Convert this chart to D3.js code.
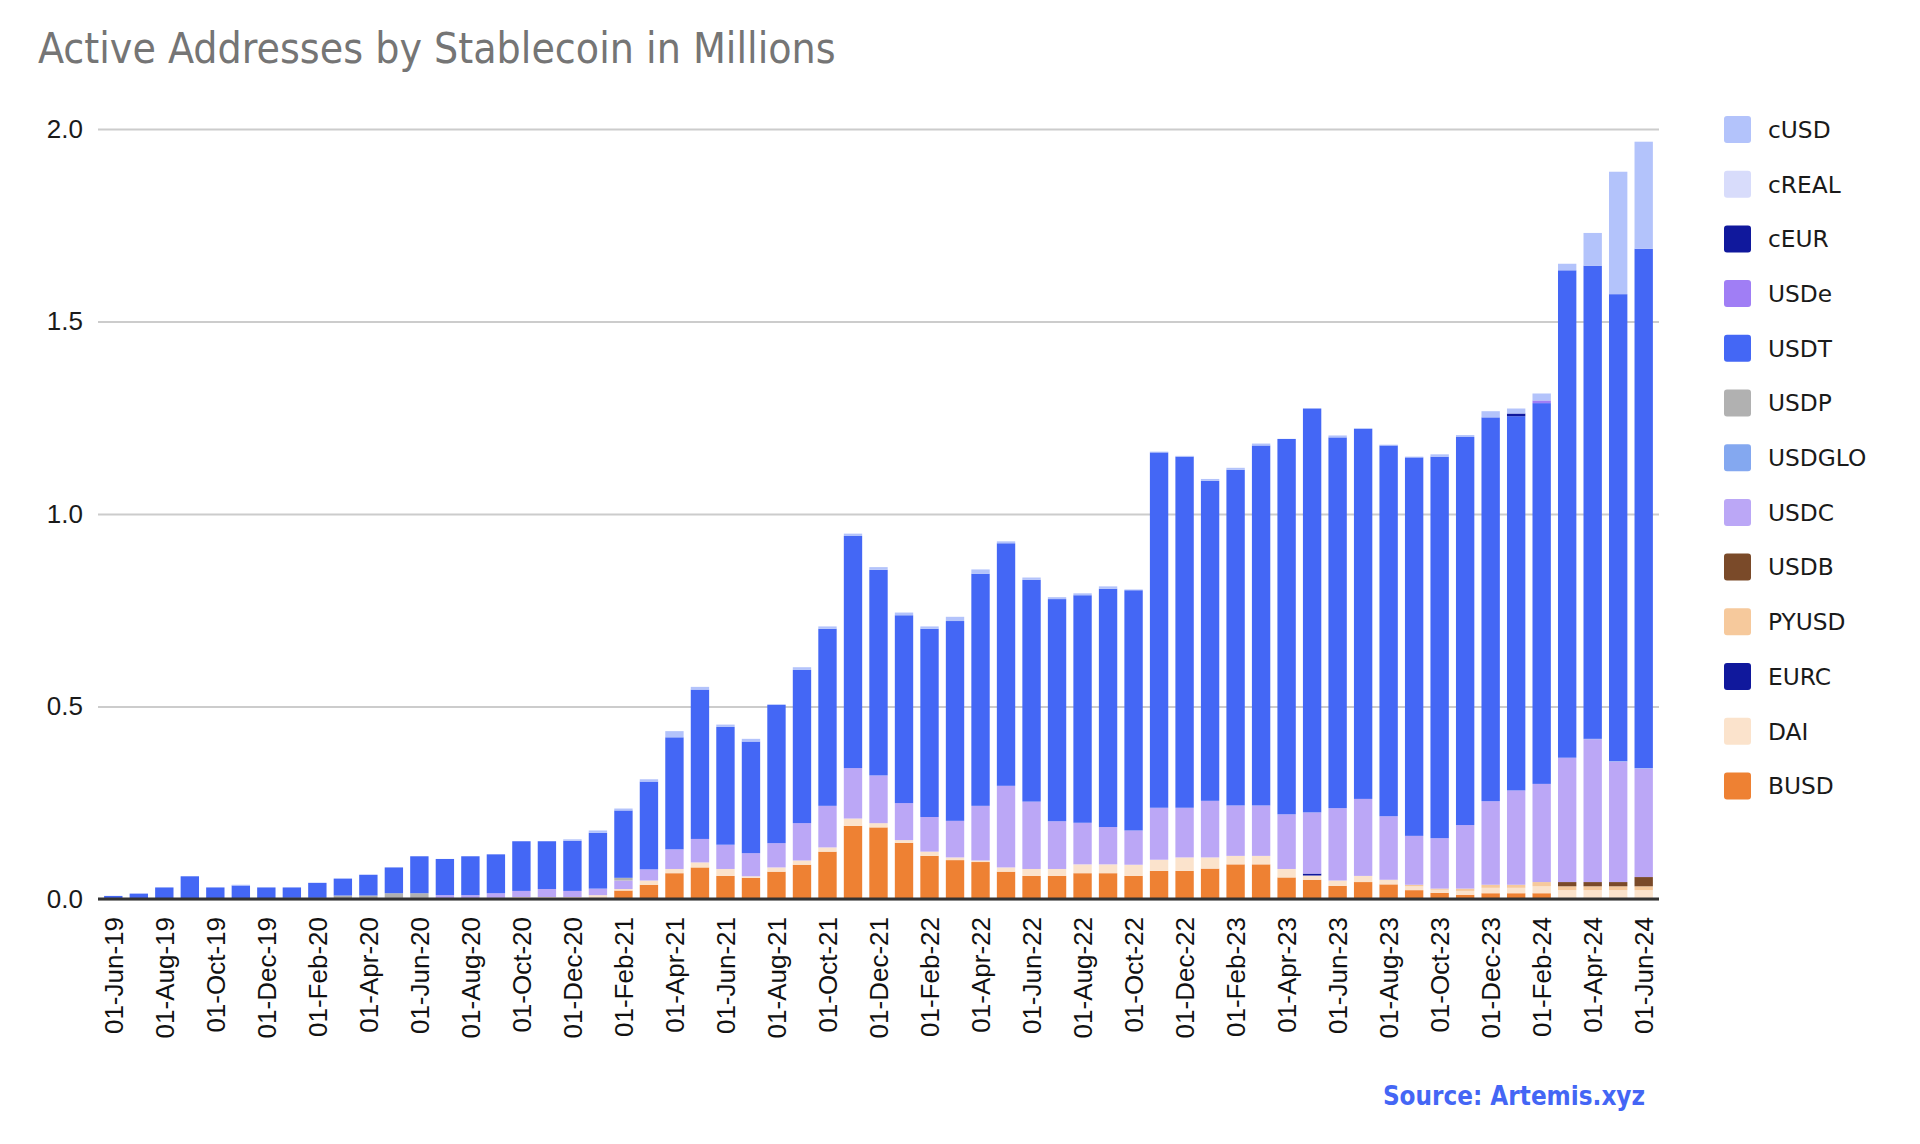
<!DOCTYPE html>
<html>
<head>
<meta charset="utf-8">
<script src="https://cdn.jsdelivr.net/npm/d3@7"></script>
<style>
  body { margin: 0; background: #fff; }
</style>
</head>
<body>
<div id="chart"></div>
<script>
// months (first of month)
var months = [
  '2019-06-01', '2019-07-01', '2019-08-01', '2019-09-01', '2019-10-01', '2019-11-01', '2019-12-01',
  '2020-01-01', '2020-02-01', '2020-03-01', '2020-04-01', '2020-05-01', '2020-06-01',
  '2020-07-01', '2020-08-01', '2020-09-01', '2020-10-01', '2020-11-01', '2020-12-01',
  '2021-01-01', '2021-02-01', '2021-03-01', '2021-04-01', '2021-05-01', '2021-06-01',
  '2021-07-01', '2021-08-01', '2021-09-01', '2021-10-01', '2021-11-01', '2021-12-01',
  '2022-01-01', '2022-02-01', '2022-03-01', '2022-04-01', '2022-05-01', '2022-06-01',
  '2022-07-01', '2022-08-01', '2022-09-01', '2022-10-01', '2022-11-01', '2022-12-01',
  '2023-01-01', '2023-02-01', '2023-03-01', '2023-04-01', '2023-05-01', '2023-06-01',
  '2023-07-01', '2023-08-01', '2023-09-01', '2023-10-01', '2023-11-01', '2023-12-01',
  '2024-01-01', '2024-02-01', '2024-03-01', '2024-04-01', '2024-05-01', '2024-06-01'
];

// active addresses, millions (stack order bottom -> top)
var BUSD = [
  0, 0, 0, 0, 0, 0, 0, 0, 0, 0,
  0, 0, 0, 0, 0, 0, 0, 0, 0, 0,
  0.022, 0.037, 0.067, 0.082, 0.060, 0.055, 0.071, 0.089, 0.123, 0.190,
  0.186, 0.146, 0.112, 0.101, 0.096, 0.071, 0.060, 0.060, 0.067, 0.067,
  0.060, 0.073, 0.073, 0.079, 0.090, 0.090, 0.056, 0.050, 0.034, 0.044,
  0.038, 0.023, 0.016, 0.011, 0.015, 0.015, 0.015, 0.003, 0.003, 0.003,
  0.003
];
var DAI = [
  0, 0, 0, 0, 0, 0, 0, 0, 0, 0,
  0, 0, 0, 0, 0, 0.003, 0.005, 0.005, 0.005, 0.010,
  0.004, 0.011, 0.011, 0.013, 0.018, 0.004, 0.011, 0.011, 0.011, 0.019,
  0.011, 0.007, 0.011, 0.007, 0.004, 0.011, 0.018, 0.018, 0.023, 0.023,
  0.029, 0.029, 0.035, 0.029, 0.022, 0.022, 0.022, 0.011, 0.014, 0.016,
  0.011, 0.010, 0.008, 0.010, 0.014, 0.014, 0.018, 0.020, 0.020, 0.020,
  0.020
];
var EURC = [
  0, 0, 0, 0, 0, 0, 0, 0, 0, 0,
  0, 0, 0, 0, 0, 0, 0, 0, 0, 0,
  0, 0, 0, 0, 0, 0, 0, 0, 0, 0,
  0, 0, 0, 0, 0, 0, 0, 0, 0, 0,
  0, 0, 0, 0, 0, 0, 0, 0.005, 0, 0,
  0, 0, 0, 0, 0, 0, 0, 0, 0, 0,
  0
];
var PYUSD = [
  0, 0, 0, 0, 0, 0, 0, 0, 0, 0,
  0, 0, 0, 0, 0, 0, 0, 0, 0, 0,
  0, 0, 0, 0, 0, 0, 0, 0, 0, 0,
  0, 0, 0, 0, 0, 0, 0, 0, 0, 0,
  0, 0, 0, 0, 0, 0, 0, 0, 0, 0,
  0.001, 0.004, 0.003, 0.006, 0.008, 0.008, 0.011, 0.010, 0.010, 0.010,
  0.010
];
var USDB = [
  0, 0, 0, 0, 0, 0, 0, 0, 0, 0,
  0, 0, 0, 0, 0, 0, 0, 0, 0, 0,
  0, 0, 0, 0, 0, 0, 0, 0, 0, 0,
  0, 0, 0, 0, 0, 0, 0, 0, 0, 0,
  0, 0, 0, 0, 0, 0, 0, 0, 0, 0,
  0, 0, 0, 0, 0, 0, 0, 0.011, 0.011, 0.011,
  0.024
];
var USDC = [
  0, 0, 0, 0, 0, 0, 0, 0, 0.003, 0,
  0, 0.003, 0.003, 0.010, 0.010, 0.012, 0.016, 0.021, 0.016, 0.017,
  0.022, 0.029, 0.051, 0.061, 0.063, 0.060, 0.063, 0.097, 0.108, 0.131,
  0.124, 0.096, 0.090, 0.095, 0.142, 0.212, 0.175, 0.124, 0.108, 0.097,
  0.089, 0.135, 0.129, 0.147, 0.131, 0.131, 0.142, 0.159, 0.188, 0.200,
  0.165, 0.127, 0.131, 0.165, 0.217, 0.245, 0.255, 0.323, 0.371, 0.313,
  0.282
];
var USDGLO = [
  0, 0, 0, 0, 0, 0, 0, 0, 0, 0,
  0, 0, 0, 0, 0, 0, 0, 0, 0, 0,
  0, 0, 0, 0, 0, 0, 0, 0, 0, 0,
  0, 0, 0, 0, 0, 0, 0, 0, 0, 0,
  0, 0, 0, 0, 0, 0, 0, 0, 0, 0,
  0, 0, 0, 0, 0, 0, 0, 0, 0.001, 0.001,
  0.001
];
var USDP = [
  0, 0, 0, 0, 0, 0, 0, 0.003, 0, 0.009,
  0.009, 0.012, 0.012, 0, 0, 0, 0, 0, 0, 0,
  0.007, 0, 0, 0, 0, 0, 0, 0, 0, 0,
  0, 0, 0, 0, 0, 0, 0, 0, 0, 0,
  0, 0, 0, 0, 0, 0, 0, 0, 0, 0,
  0, 0, 0, 0, 0, 0, 0, 0, 0, 0,
  0
];
var USDT = [
  0.008, 0.014, 0.030, 0.059, 0.030, 0.035, 0.030, 0.027, 0.039, 0.044,
  0.054, 0.067, 0.096, 0.094, 0.101, 0.101, 0.129, 0.124, 0.130, 0.145,
  0.175, 0.228, 0.291, 0.388, 0.306, 0.290, 0.359, 0.398, 0.460, 0.603,
  0.534, 0.488, 0.489, 0.519, 0.603, 0.630, 0.576, 0.577, 0.591, 0.619,
  0.624, 0.923, 0.912, 0.831, 0.872, 0.935, 0.975, 1.049, 0.963, 0.961,
  0.963, 0.983, 0.991, 1.008, 0.997, 0.972, 0.989, 1.266, 1.229, 1.213,
  1.349
];
var USDe = [
  0, 0, 0, 0, 0, 0, 0, 0, 0, 0,
  0, 0, 0, 0, 0, 0, 0, 0, 0, 0,
  0, 0, 0, 0, 0, 0, 0, 0, 0, 0,
  0, 0, 0, 0, 0, 0, 0, 0, 0, 0,
  0, 0, 0, 0, 0, 0, 0, 0, 0, 0,
  0, 0, 0, 0, 0, 0, 0.007, 0, 0, 0,
  0
];
var cEUR = [
  0, 0, 0, 0, 0, 0, 0, 0, 0, 0,
  0, 0, 0, 0, 0, 0, 0, 0, 0, 0,
  0, 0, 0, 0, 0, 0, 0, 0, 0, 0,
  0, 0, 0, 0, 0, 0, 0, 0, 0, 0,
  0, 0, 0, 0, 0, 0, 0, 0, 0, 0,
  0, 0, 0, 0, 0, 0.007, 0, 0, 0, 0,
  0
];
var cREAL = [
  0, 0, 0, 0, 0, 0, 0, 0, 0, 0,
  0, 0, 0, 0, 0, 0, 0, 0, 0, 0,
  0, 0, 0, 0, 0, 0, 0, 0, 0, 0,
  0, 0, 0, 0, 0, 0, 0, 0, 0, 0,
  0, 0, 0, 0, 0, 0, 0, 0, 0, 0,
  0, 0, 0, 0, 0, 0, 0, 0, 0, 0,
  0
];
var cUSD = [
  0, 0, 0, 0, 0, 0.002, 0, 0, 0, 0,
  0, 0, 0, 0, 0, 0, 0, 0, 0.004, 0.006,
  0.005, 0.006, 0.016, 0.007, 0.006, 0.007, 0.002, 0.007, 0.006, 0.006,
  0.007, 0.007, 0.006, 0.011, 0.011, 0.005, 0.006, 0.005, 0.005, 0.006,
  0.002, 0.002, 0.002, 0.005, 0.005, 0.005, 0, 0, 0.005, 0.002,
  0.002, 0.002, 0.006, 0.005, 0.016, 0.013, 0.018, 0.017, 0.085, 0.318,
  0.278
];

var yTicks = [0, 0.5, 1.0, 1.5, 2.0];

var coins = ['BUSD', 'DAI', 'EURC', 'PYUSD', 'USDB', 'USDC', 'USDGLO', 'USDP', 'USDT', 'USDe', 'cEUR', 'cREAL', 'cUSD'];
var values = {
  BUSD: BUSD, DAI: DAI, EURC: EURC, PYUSD: PYUSD, USDB: USDB, USDC: USDC, USDGLO: USDGLO,
  USDP: USDP, USDT: USDT, USDe: USDe, cEUR: cEUR, cREAL: cREAL, cUSD: cUSD
};
var colors = {
  BUSD: '#ee8133', DAI: '#fbe3cc', EURC: '#10189c', PYUSD: '#f6c99c', USDB: '#7a4a29',
  USDC: '#bba7f6', USDGLO: '#84a8f0', USDP: '#b1b1b1', USDT: '#4467f5', USDe: '#a07ef5',
  cEUR: '#10189c', cREAL: '#d8dcfb', cUSD: '#b3c3fb'
};

// Create SVG Element
var chartWidth = 1920;
var chartHeight = 1144;
var plotLeft = 98;
var plotRight = 1659;
var plotTop = 129;
var plotBottom = 899;

var svg = d3.select('#chart')
    .append('svg')
    .attr('width', chartWidth)
    .attr('height', chartHeight)
    .style('background-color', '#fff');

// Scale
var scaleX = d3.scaleBand()
    .domain(months)
    .range([plotLeft, plotRight])
    .paddingInner(0.28)
    .paddingOuter(0.24);
var scaleY = d3.scaleLinear()
    .domain([0, 2])
    .range([plotBottom, plotTop]);

// Title
svg.append('text')
    .attr('x', 38)
    .attr('y', 63)
    .attr('font-family', '"DejaVu Sans Condensed", "DejaVu Sans", sans-serif')
    .attr('font-stretch', 'condensed')
    .attr('font-size', 42.4)
    .attr('fill', '#757575')
    .text('Active Addresses by Stablecoin in Millions');

// Grid + Y axis
var axisY = d3.axisLeft(scaleY)
    .tickValues(yTicks)
    .tickFormat(d3.format('.1f'))
    .tickSizeInner(-(plotRight - plotLeft))
    .tickSizeOuter(0)
    .tickPadding(15);
var gy = svg.append('g')
    .attr('class', 'axisY')
    .attr('transform', 'translate(' + plotLeft + ',0)')
    .call(axisY);
gy.select('.domain').remove();
gy.selectAll('line')
    .attr('stroke', '#cccccc')
    .attr('stroke-width', 2);
gy.selectAll('text')
    .attr('font-family', '"Liberation Sans", Arial, sans-serif')
    .attr('font-size', 26)
    .attr('fill', '#1a1a1a');

// Stack
var rows = months.map(function(m, i) {
  var r = {month: m};
  coins.forEach(function(c) {
    r[c] = values[c][i];
  });
  return r;
});
var stacked = d3.stack().keys(coins)(rows);

// Create Bars
svg.append('g').selectAll('g')
    .data(stacked)
    .enter()
    .append('g')
    .attr('fill', function(d) {
      return colors[d.key];
    })
    .selectAll('rect')
    .data(function(d) {
      return d;
    })
    .enter()
    .append('rect')
    .attr('x', function(d) {
      return scaleX(d.data.month);
    })
    .attr('y', function(d) {
      return scaleY(d[1]);
    })
    .attr('width', scaleX.bandwidth())
    .attr('height', function(d) {
      return Math.max(0, scaleY(d[0]) - scaleY(d[1]));
    });

// X axis
var parseDate = d3.timeParse('%Y-%m-%d');
var fmt = d3.timeFormat('%d-%b-%y');
var axisX = d3.axisBottom(scaleX)
    .tickValues(months.filter(function(d, i) {
      return i % 2 === 0;
    }))
    .tickFormat(function(d) {
      return fmt(parseDate(d));
    })
    .tickSize(0);
var gx = svg.append('g')
    .attr('class', 'axisX')
    .attr('transform', 'translate(0,' + plotBottom + ')')
    .call(axisX);
gx.select('.domain').remove();
gx.selectAll('text')
    .attr('font-family', '"Liberation Sans", Arial, sans-serif')
    .attr('font-size', 26)
    .attr('fill', '#111')
    .attr('transform', 'rotate(-90)')
    .attr('x', -18)
    .attr('y', 0)
    .attr('dy', '0.36em')
    .style('text-anchor', 'end');

// baseline
svg.append('line')
    .attr('x1', plotLeft)
    .attr('x2', plotRight)
    .attr('y1', scaleY(0))
    .attr('y2', scaleY(0))
    .attr('stroke', '#333')
    .attr('stroke-width', 3);

// Legend
var legend = svg.append('g')
    .selectAll('g')
    .data(coins.slice().reverse())
    .enter()
    .append('g')
    .attr('transform', function(d, i) {
      return 'translate(1724,' + (129.5 + i * 54.7) + ')';
    });
legend.append('rect')
    .attr('x', 0)
    .attr('y', -13.5)
    .attr('width', 27)
    .attr('height', 27)
    .attr('rx', 3)
    .attr('fill', function(d) {
      return colors[d];
    });
legend.append('text')
    .attr('x', 44)
    .attr('y', 0)
    .attr('dy', '0.36em')
    .attr('font-family', '"DejaVu Sans", Verdana, sans-serif')
    .attr('font-size', 23.3)
    .attr('fill', '#1a1a1a')
    .text(function(d) {
      return d;
    });

// Source
svg.append('text')
    .attr('x', 1645)
    .attr('y', 1105)
    .attr('text-anchor', 'end')
    .attr('font-family', '"DejaVu Sans Condensed", "DejaVu Sans", sans-serif')
    .attr('font-stretch', 'condensed')
    .attr('font-weight', 'bold')
    .attr('font-size', 25.8)
    .attr('fill', '#4466f5')
    .text('Source: Artemis.xyz');
</script>
</body>
</html>
